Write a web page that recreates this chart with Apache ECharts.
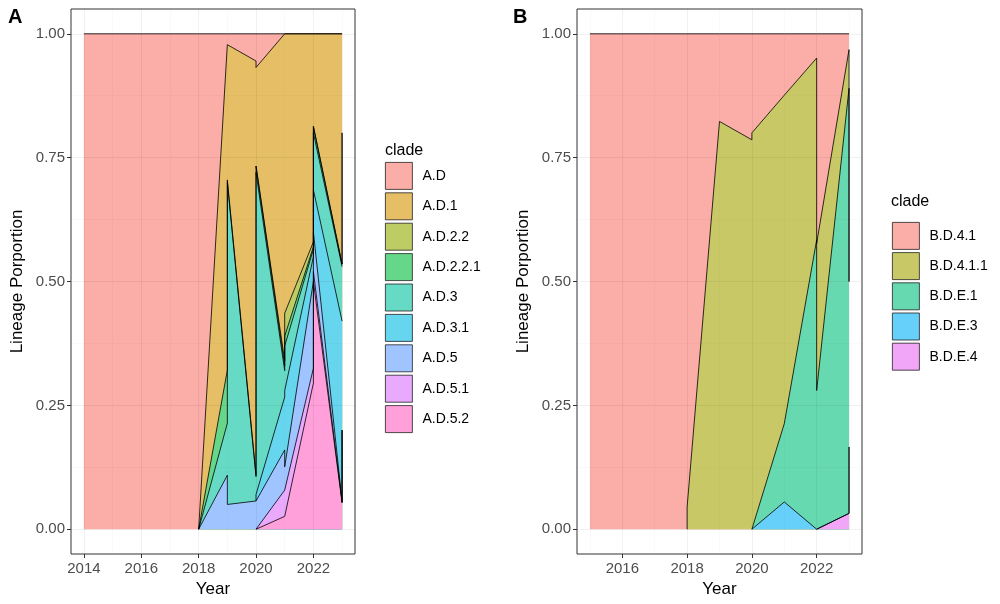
<!DOCTYPE html>
<html><head><meta charset="utf-8">
<script src="https://cdn.jsdelivr.net/npm/echarts@6/dist/echarts.min.js"></script>
<style>html,body{margin:0;padding:0;background:#fff}#c{width:1000px;height:604px}</style>
</head><body><div id="c"></div>
<script>
// ---------- Panel A data ----------
const yearsA = [2014, 2018, 2019, 2019, 2020, 2020, 2021, 2021, 2022, 2022, 2023, 2023];
const cladesA = ['A.D', 'A.D.1', 'A.D.2.2', 'A.D.2.2.1', 'A.D.3', 'A.D.3.1', 'A.D.5', 'A.D.5.1', 'A.D.5.2'];
const A_D       = [1, 1, 0.022, 0.022, 0.055, 0.068, 0, 0, 0, 0, 0, 0];
const A_D_1     = [null, 0, 0.657, 0.273, 0.835, 0.199, 0.66, 0.564, 0.42, 0.187, 0.465, 0.20];
const A_D_2_2   = [null, null, null, null, null, 0, 0.01, 0.046, 0.01, 0, 0, 0];
const A_D_2_2_1 = [null, 0, 0.107, 0.005, 0.004, 0.013, 0.01, 0.02, 0.005, 0.013, 0.005, 0.27];
const A_D_3     = [null, 0, 0.105, 0.65, 0.049, 0.65, 0.053, 0.09, 0.015, 0.115, 0.11, 0.11];
const A_D_3_1   = [null, null, null, null, 0, 0.015, 0.107, 0.154, 0.05, 0.085, 0.364, 0.22];
const A_D_5     = [null, 0, 0.109, 0.05, 0.057, 0.055, 0.081, 0.047, 0.175, 0.08, 0.001, 0];
const A_D_5_1   = [null, null, null, null, null, 0, 0.053, 0.053, 0.03, 0.02, 0.002, 0];
const A_D_5_2   = [null, null, null, null, null, 0, 0.026, 0.026, 0.295, 0.50, 0.053, 0.20];
const valuesA = [A_D, A_D_1, A_D_2_2, A_D_2_2_1, A_D_3, A_D_3_1, A_D_5, A_D_5_1, A_D_5_2];
const colorsA = ['#F8766D', '#D39200', '#93AA00', '#00BA38', '#00C19F', '#00B9E3', '#619CFF', '#DB72FB', '#FF61C3'];
const xTicksA = [2014, 2016, 2018, 2020, 2022];
const xMinorA = [2015, 2017, 2019, 2021, 2023];

// ---------- Panel B data ----------
const yearsB = [2015, 2018, 2018, 2019, 2020, 2020, 2021, 2022, 2022, 2023, 2023];
const cladesB = ['B.D.4.1', 'B.D.4.1.1', 'B.D.E.1', 'B.D.E.3', 'B.D.E.4'];
const B_D_4_1   = [1, 1, 0.955, 0.177, 0.214, 0.20, 0.124, 0.049, 0.423, 0.032, 0.5];
const B_D_4_1_1 = [null, 0, 0.045, 0.823, 0.786, 0.80, 0.663, 0.367, 0.297, 0.078, 0];
const B_D_E_1   = [null, null, null, null, 0, 0, 0.158, 0.584, 0.28, 0.858, 0.334];
const B_D_E_3   = [null, null, null, null, 0, 0, 0.055, 0, 0, 0, 0];
const B_D_E_4   = [null, null, null, null, null, null, null, 0, 0, 0.032, 0.166];
const valuesB = [B_D_4_1, B_D_4_1_1, B_D_E_1, B_D_E_3, B_D_E_4];
const colorsB = ['#F8766D', '#A3A500', '#00BF7D', '#00B0F6', '#E76BF3'];
const xTicksB = [2016, 2018, 2020, 2022];
const xMinorB = [2015, 2017, 2019, 2021, 2023];

const yTicks = [0, 0.25, 0.5, 0.75, 1];
const yMinor = [0.125, 0.375, 0.625, 0.875];

const FONT = '"Liberation Sans", Arial, sans-serif';
// ggplot fill alpha 0.6 over white, pre-blended so stacked bands can overlap
function blend(hex, a) {
  const ch = [1, 3, 5].map(p => parseInt(hex.slice(p, p + 2), 16));
  return 'rgb(' + ch.map(c => Math.round(255 - a * (255 - c))).join(',') + ')';
}

// Each clade is drawn from 0 up to its cumulative top (stacked from the last clade upward);
// the top clade is drawn first so the lower ones paint over it.
function makeSeries(names, values, colors, years, axisIdx) {
  const out = [];
  for (let k = 0; k < names.length; k++) {
    const c = blend(colors[k], 0.6);
    const data = years.map((x, i) => {
      if (values[k][i] == null) return [x, '-'];
      let s = 0;
      for (let j = k; j < names.length; j++) s += (values[j][i] || 0);
      return [x, +s.toFixed(4)];
    });
    out.push({
      name: names[k], type: 'line',
      xAxisIndex: axisIdx, yAxisIndex: axisIdx,
      data: data,
      showSymbol: false, symbol: 'none', smooth: false,
      itemStyle: { color: c },
      lineStyle: { color: '#000', width: 0.8 },
      areaStyle: { color: c, opacity: 1, origin: 0 },
      emphasis: { disabled: true },
      z: 2
    });
  }
  return out;
}

function mainX(grid, min, max, ticks) {
  return {
    type: 'value', gridIndex: grid, min: min, max: max, position: 'bottom', z: 3,
    axisLine: { show: false, onZero: false },
    axisTick: { show: true, length: 4, lineStyle: { color: '#333' }, customValues: ticks },
    axisLabel: { customValues: ticks, color: '#4D4D4D', fontSize: 15, margin: 7, fontFamily: FONT,
      formatter: v => String(Math.round(v)) },
    splitLine: { show: true, lineStyle: { color: 'rgba(0,0,0,0.055)', width: 1 } },
    name: 'Year', nameLocation: 'middle', nameGap: 27,
    nameTextStyle: { fontSize: 17, color: '#000', fontFamily: FONT }
  };
}
function minorX(grid, min, max, ticks) {
  return {
    type: 'value', gridIndex: grid, min: min, max: max, position: 'top', z: 3,
    axisLine: { show: false, onZero: false },
    axisTick: { show: false, customValues: ticks },
    axisLabel: { show: false, customValues: ticks },
    splitLine: { show: true, lineStyle: { color: 'rgba(0,0,0,0.035)', width: 0.6 } }
  };
}
function mainY(grid) {
  return {
    type: 'value', gridIndex: grid, min: -0.05, max: 1.05, position: 'left', z: 3,
    axisLine: { show: false, onZero: false },
    axisTick: { show: true, length: 4, lineStyle: { color: '#333' }, customValues: yTicks },
    axisLabel: { customValues: yTicks, color: '#4D4D4D', fontSize: 15, margin: 6, fontFamily: FONT,
      formatter: v => Number(v).toFixed(2) },
    splitLine: { show: true, lineStyle: { color: 'rgba(0,0,0,0.055)', width: 1 } },
    name: 'Lineage Porportion', nameLocation: 'middle', nameGap: 45,
    nameTextStyle: { fontSize: 17, color: '#000', fontFamily: FONT }
  };
}
function minorY(grid) {
  return {
    type: 'value', gridIndex: grid, min: -0.05, max: 1.05, position: 'right', z: 3,
    axisLine: { show: false, onZero: false },
    axisTick: { show: false, customValues: yMinor },
    axisLabel: { show: false, customValues: yMinor },
    splitLine: { show: true, lineStyle: { color: 'rgba(0,0,0,0.035)', width: 0.6 } }
  };
}

const chart = echarts.init(document.getElementById('c'), null, { renderer: 'canvas' });
const option = {
  animation: false,
  backgroundColor: '#fff',
  textStyle: { fontFamily: FONT },
  title: [
    { text: 'A', left: 8, top: 7, padding: 0, textStyle: { fontSize: 20, fontWeight: 'bold', color: '#000', fontFamily: FONT } },
    { text: 'B', left: 513, top: 7, padding: 0, textStyle: { fontSize: 20, fontWeight: 'bold', color: '#000', fontFamily: FONT } },
    { text: 'clade', left: 385, top: 143, padding: 0, textStyle: { fontSize: 16, fontWeight: 'normal', color: '#000', fontFamily: FONT } },
    { text: 'clade', left: 891, top: 194, padding: 0, textStyle: { fontSize: 16, fontWeight: 'normal', color: '#000', fontFamily: FONT } }
  ],
  legend: [
    { data: cladesA, left: 385, top: 162, orient: 'vertical', icon: 'rect', itemWidth: 27, itemHeight: 27,
      itemGap: 2.6, padding: 0, selectedMode: false,
      itemStyle: { borderColor: '#222', borderWidth: 0.8 },
      textStyle: { fontSize: 14, color: '#000', fontFamily: FONT, padding: [0, 0, 0, 5] } },
    { data: cladesB, left: 892, top: 222, orient: 'vertical', icon: 'rect', itemWidth: 27, itemHeight: 27,
      itemGap: 2.4, padding: 0, selectedMode: false,
      itemStyle: { borderColor: '#222', borderWidth: 0.8 },
      textStyle: { fontSize: 14, color: '#000', fontFamily: FONT, padding: [0, 0, 0, 5] } }
  ],
  grid: [
    { left: 71, top: 9, width: 284, height: 545, show: true, borderColor: '#333', borderWidth: 1, backgroundColor: 'transparent' },
    { left: 577, top: 9, width: 285, height: 545, show: true, borderColor: '#333', borderWidth: 1, backgroundColor: 'transparent' }
  ],
  xAxis: [
    mainX(0, 2013.55, 2023.45, xTicksA),
    minorX(0, 2013.55, 2023.45, xMinorA),
    mainX(1, 2014.6, 2023.4, xTicksB),
    minorX(1, 2014.6, 2023.4, xMinorB)
  ],
  yAxis: [mainY(0), minorY(0), mainY(1), minorY(1)],
  series: []
};
option.series = makeSeries(cladesA, valuesA, colorsA, yearsA, 0)
  .concat(makeSeries(cladesB, valuesB, colorsB, yearsB, 2));
chart.setOption(option);
</script></body></html>
